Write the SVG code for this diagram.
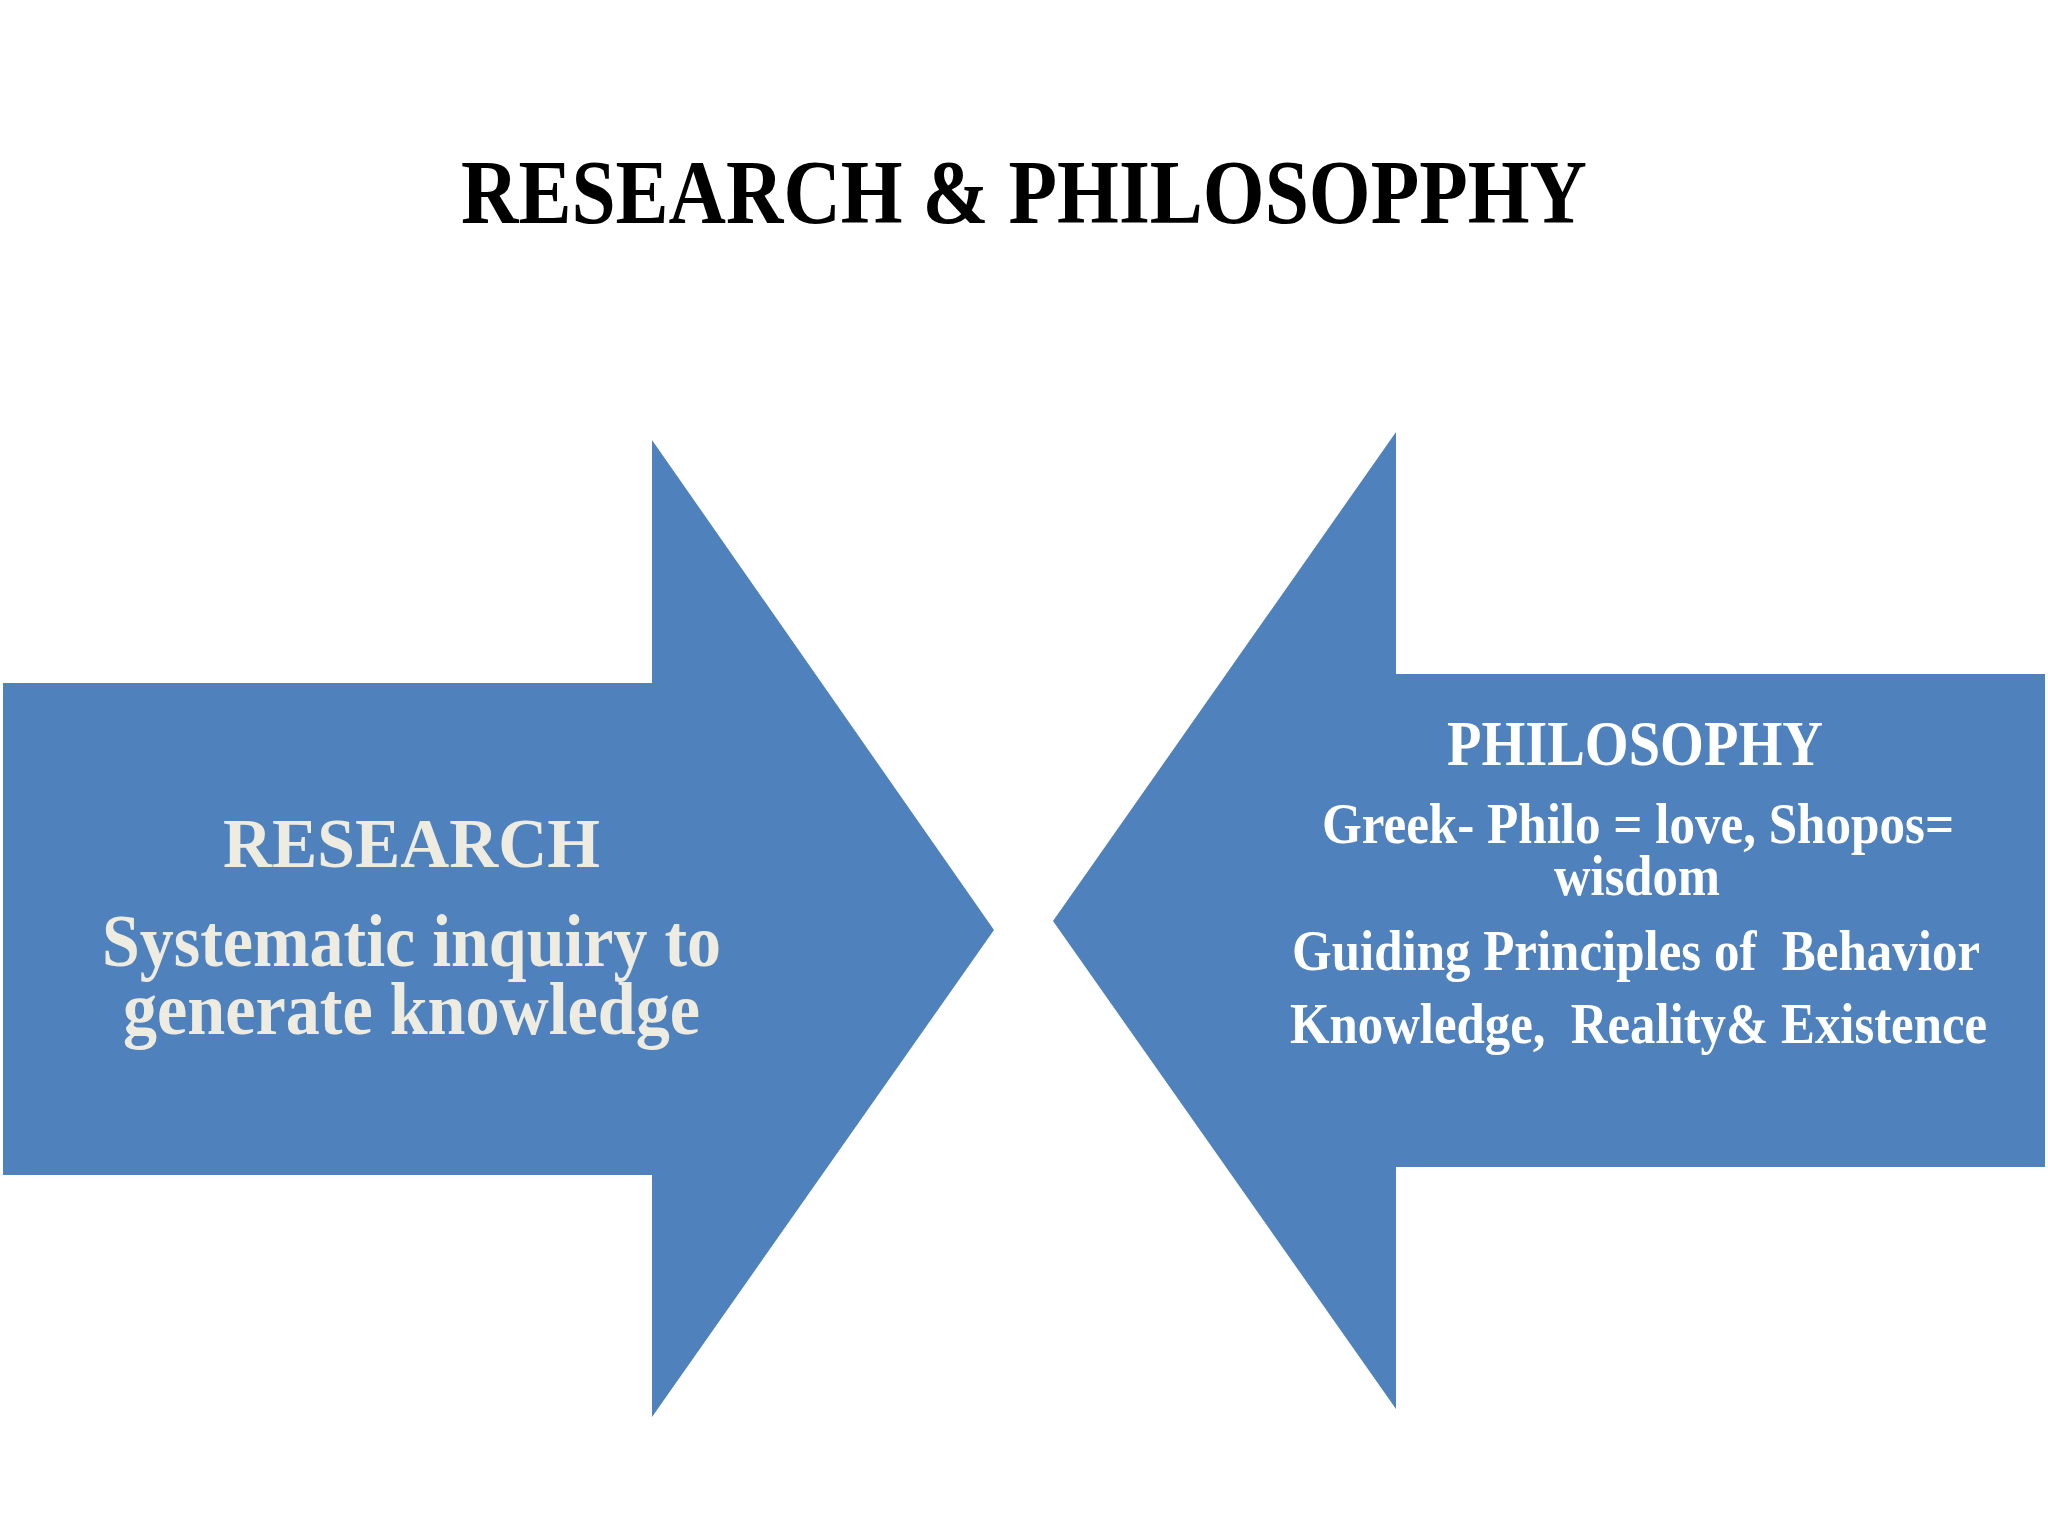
<svg xmlns="http://www.w3.org/2000/svg" width="2048" height="1536" viewBox="0 0 2048 1536">
<style>
.t{font-family:"Liberation Serif","Times New Roman",serif;font-weight:bold;white-space:pre}
.title{fill:#000000;font-size:90px}
.lt{fill:#eeece1}
.rt{fill:#ffffff}
.arrow{fill:#4f81bd}
</style>
<rect width="2048" height="1536" fill="#ffffff"/>
<g id="title">
<text class="t title" x="461" y="223" textLength="1126" lengthAdjust="spacingAndGlyphs">RESEARCH &amp; PHILOSOPPHY</text>
</g>
<g id="research">
<polygon class="arrow" points="3,683 652,683 652,440 994,930 652,1417 652,1175 3,1175"/>
<text class="t lt" x="223" y="867" font-size="70" textLength="377" lengthAdjust="spacingAndGlyphs">RESEARCH</text>
<text class="t lt" x="102" y="966" font-size="74" textLength="619" lengthAdjust="spacingAndGlyphs">Systematic inquiry to</text>
<text class="t lt" x="123" y="1034" font-size="74" textLength="577" lengthAdjust="spacingAndGlyphs">generate knowledge</text>
</g>
<g id="philosophy">
<polygon class="arrow" points="2045,674 1396,674 1396,432 1053,921 1396,1409 1396,1167 2045,1167"/>
<text class="t rt" x="1447" y="765" font-size="64" textLength="376" lengthAdjust="spacingAndGlyphs">PHILOSOPHY</text>
<text class="t rt" x="1322" y="843" font-size="57" textLength="632" lengthAdjust="spacingAndGlyphs">Greek- Philo = love, Shopos=</text>
<text class="t rt" x="1554" y="895" font-size="57" textLength="166" lengthAdjust="spacingAndGlyphs">wisdom</text>
<text class="t rt" x="1292" y="970" font-size="57" textLength="688" lengthAdjust="spacingAndGlyphs">Guiding Principles of  Behavior</text>
<text class="t rt" x="1290" y="1043" font-size="57" textLength="697" lengthAdjust="spacingAndGlyphs">Knowledge,  Reality&amp; Existence</text>
</g>
<g id="connectors"/>
</svg>
